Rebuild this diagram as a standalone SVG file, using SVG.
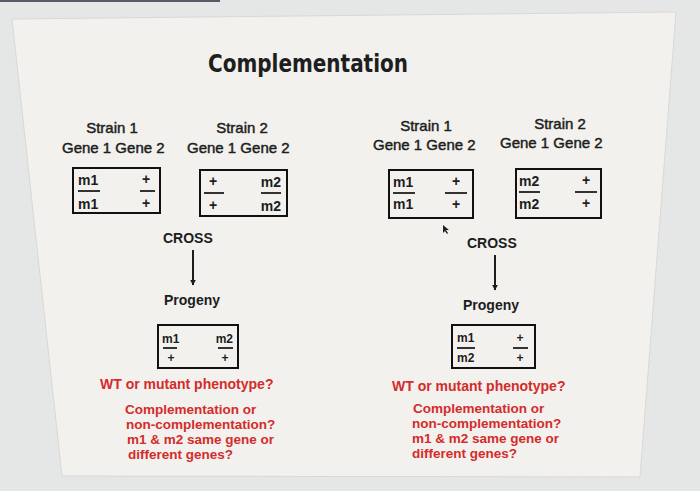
<svg xmlns="http://www.w3.org/2000/svg" width="700" height="491" viewBox="0 0 700 491">
<defs>
<style>
.t{font-family:"Liberation Sans",Arial,sans-serif;fill:#1d1d1d;stroke:#1d1d1d;stroke-width:0.45}
.h{font-size:15px}
.g{font-size:14px;font-weight:bold;stroke-width:0}
.s{font-size:12px;font-weight:bold;stroke-width:0}
.c{font-size:14px;font-weight:bold;stroke-width:0}
.r{font-family:"Liberation Sans",Arial,sans-serif;font-weight:bold;fill:#d42b2b}
.q1{font-size:14px}
.q{font-size:13.5px}
.box{fill:none;stroke:#111;stroke-width:2}
.bar{stroke:#1d1d1d;stroke-width:1.8}
.arr{stroke:#1d1d1d;stroke-width:2;fill:none}
.m{text-anchor:middle}
.e{text-anchor:end}
</style>
<marker id="ah" viewBox="0 0 10 10" refX="9" refY="5" markerWidth="6" markerHeight="6" orient="auto" markerUnits="userSpaceOnUse">
<path d="M0,0 L10,5 L0,10 z" fill="#1d1d1d"/>
</marker>
</defs>
<rect x="0" y="0" width="700" height="491" fill="#e5e6e6"/>
<rect x="0" y="0" width="220" height="2" fill="#555a66"/>
<polygon points="12,19 676,12 640,477 62,476" fill="#f2f1ed" stroke="#d8d8d6" stroke-width="1"/>

<g id="title">
<text x="308" y="72" text-anchor="middle" textLength="200" lengthAdjust="spacingAndGlyphs" style="font-family:'Comic Sans MS','DejaVu Sans',sans-serif;font-size:25px;font-weight:bold;fill:#1e1e1e">Complementation</text>
</g>

<g id="left-strain1">
<text class="t h m" x="112" y="133">Strain 1</text>
<text class="t h" x="62" y="153">Gene 1 Gene 2</text>
<rect class="box" x="73" y="168" width="87" height="45"/>
<text class="t g" x="78" y="185">m1</text>
<line class="bar" x1="78" y1="191" x2="100" y2="191"/>
<text class="t g" x="78" y="209">m1</text>
<text class="t g m" x="146" y="184">+</text>
<line class="bar" x1="140" y1="191" x2="155" y2="191"/>
<text class="t g m" x="146" y="208">+</text>
</g>

<g id="left-strain2">
<text class="t h m" x="242" y="133">Strain 2</text>
<text class="t h" x="187" y="153">Gene 1 Gene 2</text>
<rect class="box" x="200" y="170" width="87" height="46"/>
<text class="t g m" x="213" y="186">+</text>
<line class="bar" x1="204" y1="193" x2="224" y2="193"/>
<text class="t g m" x="213" y="210">+</text>
<text class="t g e" x="281" y="187">m2</text>
<line class="bar" x1="261" y1="193" x2="281" y2="193"/>
<text class="t g e" x="281" y="211">m2</text>
</g>

<g id="right-strain1">
<text class="t h m" x="426" y="131">Strain 1</text>
<text class="t h" x="373" y="150">Gene 1 Gene 2</text>
<rect class="box" x="389" y="170" width="84" height="48"/>
<text class="t g" x="393" y="187">m1</text>
<line class="bar" x1="393" y1="193" x2="415" y2="193"/>
<text class="t g" x="393" y="209">m1</text>
<text class="t g m" x="456" y="186">+</text>
<line class="bar" x1="445" y1="193" x2="467" y2="193"/>
<text class="t g m" x="456" y="209">+</text>
</g>

<g id="right-strain2">
<text class="t h m" x="560" y="129">Strain 2</text>
<text class="t h" x="500" y="148">Gene 1 Gene 2</text>
<rect class="box" x="516" y="169" width="85" height="49"/>
<text class="t g" x="519" y="186">m2</text>
<line class="bar" x1="519" y1="192" x2="540" y2="192"/>
<text class="t g" x="519" y="209">m2</text>
<text class="t g m" x="586" y="185">+</text>
<line class="bar" x1="575" y1="192" x2="597" y2="192"/>
<text class="t g m" x="586" y="208">+</text>
</g>

<g id="left-cross">
<text class="t c" x="163" y="243">CROSS</text>
</g>
<g id="left-progeny-label">
<text class="t c" x="164" y="305">Progeny</text>
</g>
<g id="right-cross">
<text class="t c" x="467" y="248">CROSS</text>
</g>
<g id="right-progeny-label">
<text class="t c" x="463" y="310">Progeny</text>
</g>

<g id="connectors">
<line class="arr" x1="193" y1="250" x2="193" y2="285" marker-end="url(#ah)"/>
<line class="arr" x1="495" y1="255" x2="495" y2="290" marker-end="url(#ah)"/>
</g>

<g id="left-progeny">
<rect class="box" x="158" y="325" width="80" height="43"/>
<text class="t s" x="162" y="343">m1</text>
<line class="bar" x1="163" y1="348" x2="177" y2="348"/>
<text class="t s m" x="171" y="362">+</text>
<text class="t s e" x="233" y="343">m2</text>
<line class="bar" x1="218" y1="348" x2="233" y2="348"/>
<text class="t s m" x="225" y="362">+</text>
</g>

<g id="right-progeny">
<rect class="box" x="452" y="325" width="83" height="43"/>
<text class="t s" x="457" y="342">m1</text>
<line class="bar" x1="457" y1="348" x2="475" y2="348"/>
<text class="t s" x="457" y="362">m2</text>
<text class="t s m" x="520" y="342">+</text>
<line class="bar" x1="513" y1="348" x2="528" y2="348"/>
<text class="t s m" x="520" y="362">+</text>
</g>

<g id="left-questions">
<text class="r q1" x="100" y="389">WT or mutant phenotype?</text>
<text class="r q" x="125" y="414">Complementation or</text>
<text class="r q" x="126" y="429">non-complementation?</text>
<text class="r q" x="127" y="444">m1 &amp; m2 same gene or</text>
<text class="r q" x="128" y="459">different genes?</text>
</g>

<g id="right-questions">
<text class="r q1" x="392" y="391">WT or mutant phenotype?</text>
<text class="r q" x="413" y="413">Complementation or</text>
<text class="r q" x="412" y="428">non-complementation?</text>
<text class="r q" x="412" y="443">m1 &amp; m2 same gene or</text>
<text class="r q" x="412" y="458">different genes?</text>
</g>

<polygon points="443,225 443,233 445,231 447,234 448,233 446,230 449,230" fill="#222"/>
</svg>
